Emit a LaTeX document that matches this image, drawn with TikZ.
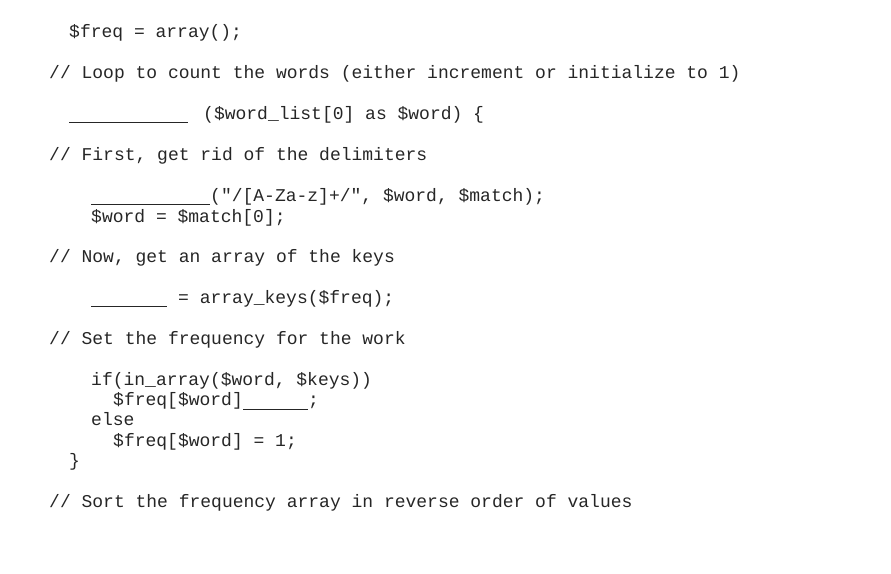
\documentclass[tikz,border=0pt]{standalone}
\usepackage{fontspec}
\setmainfont{Liberation Mono}[Ligatures=TeXOff]
\begin{document}
\begin{tikzpicture}[x=1pt,y=-1pt,
  code/.style={anchor=base west,inner sep=0pt,font=\fontsize{18}{20}\selectfont,text=black!85},
  blank/.style={draw=black!85,line width=0.8pt}]
\useasboundingbox (0,0) rectangle (891,573);
\node[code] (l1) at (69,37) {\$freq = array();};
\node[code] (c1) at (49,78) {// Loop to count the words (either increment or initialize to 1)};
\coordinate (b1a) at (69,122); \coordinate (b1b) at (188,122);
\draw[blank] (b1a) -- (b1b);
\node[code] (l2) at (203,119) {(\$word\_list[0] as \$word) \{};
\node[code] (c2) at (49,160) {// First, get rid of the delimiters};
\coordinate (b2a) at (91,204); \coordinate (b2b) at (210,204);
\draw[blank] (b2a) -- (b2b);
\node[code] (l3) at (210,201) {("/[A-Za-z]+/", \$word, \$match);};
\node[code] (l4) at (91,222) {\$word = \$match[0];};
\node[code] (c3) at (49,262) {// Now, get an array of the keys};
\coordinate (b3a) at (91,306); \coordinate (b3b) at (167,306);
\draw[blank] (b3a) -- (b3b);
\node[code] (l5) at (178,303) {= array\_keys(\$freq);};
\node[code] (c4) at (49,344) {// Set the frequency for the work};
\node[code] (l6) at (91,385) {if(in\_array(\$word, \$keys))};
\node[code] (l7) at (113,405) {\$freq[\$word]};
\coordinate (b4a) at (243,409); \coordinate (b4b) at (308,409);
\draw[blank] (b4a) -- (b4b);
\node[code] (l7b) at (308,405) {;};
\node[code] (l8) at (91,425) {else};
\node[code] (l9) at (113,446) {\$freq[\$word] = 1;};
\node[code] (l10) at (69,466) {\}};
\node[code] (c5) at (49,507) {// Sort the frequency array in reverse order of values};
\end{tikzpicture}
\end{document}
